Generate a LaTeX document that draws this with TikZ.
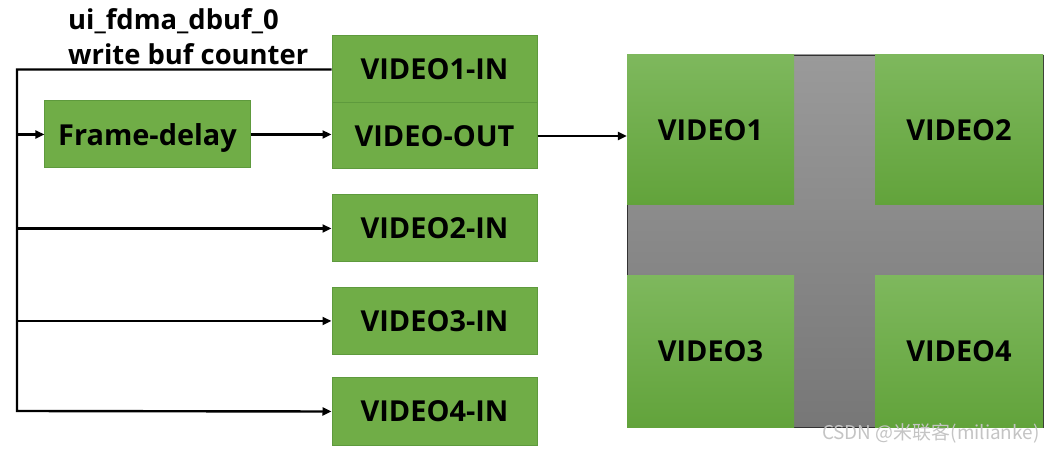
\documentclass[tikz,border=0pt]{standalone}
\usepackage{fontspec}
\setmainfont{Open Sans}
\newfontfamily\cjkfont{Noto Sans CJK SC}
\usetikzlibrary{arrows.meta, positioning}

\definecolor{boxgreen}{HTML}{70AD47}
\definecolor{boxedge}{HTML}{5E9A3D}
\definecolor{scrtop}{HTML}{7EB85D}
\definecolor{scrbot}{HTML}{62A33B}
\definecolor{graytop}{HTML}{9A9A9A}
\definecolor{graybot}{HTML}{777777}
\definecolor{wmark}{HTML}{C4C4C4}

\tikzset{
  blockbox/.style={draw=boxedge, line width=1bp, fill=boxgreen, inner sep=0pt,
    minimum width=205bp, minimum height=67bp, text depth=0pt,
    font=\bfseries\fontsize{29}{32}\selectfont},
  winbox/.style={inner sep=0pt, top color=scrtop, bottom color=scrbot,
    font=\bfseries\fontsize{29}{32}\selectfont},
  wire/.style={line width=2.4bp, -{Triangle[length=9bp, width=8bp]}}
}

\begin{document}
\begin{tikzpicture}[x=1bp, y=-1bp]
\useasboundingbox (0,0) rectangle (1047,450);

% input side
\node[blockbox] (vin1) at (434.5,69.5) {VIDEO1-IN};
\node[blockbox, minimum height=66bp] (vout) at (434.5,136) {VIDEO-OUT};
\node[blockbox] (vin2) at (434.5,228.5) {VIDEO2-IN};
\node[blockbox] (vin3) at (434.5,321) {VIDEO3-IN};
\node[blockbox] (vin4) at (434.5,411.5) {VIDEO4-IN};
\node[blockbox] (fdelay) at (147.5,134.5) {Frame-delay};

\node[anchor=base west, inner sep=0pt, font=\bfseries\fontsize{27.5}{30}\selectfont] (cntname) at (68,30) {ui\_fdma\_dbuf\_0};
\node[anchor=base west, inner sep=0pt, font=\bfseries\fontsize{27.5}{30}\selectfont] (cnttext) at (68,65) {write buf counter};

% screen with four windows
\shade[top color=graytop, bottom color=graybot, draw=black!80, line width=0.8bp]
  (627,55) rectangle (1043,427);
\node[winbox, minimum width=167bp, minimum height=150bp] (v1) at (710.5,130) {VIDEO1};
\node[winbox, minimum width=168bp, minimum height=150bp] (v2) at (959,130) {VIDEO2};
\node[winbox, minimum width=167bp, minimum height=151bp] (v3) at (710.5,351.5) {VIDEO3};
\node[winbox, minimum width=168bp, minimum height=151bp] (v4) at (959,351.5) {VIDEO4};

% counter bus
\coordinate (bus) at (17,411);
\draw[wire] (vin1.west) -| (bus) -- (vin4.west);
\draw[wire] (bus |- fdelay) -- (fdelay.west);
\draw[wire] (bus |- vin2) -- (vin2.west);
\draw[wire] (bus |- vin3) -- (vin3.west);
\draw[wire] (fdelay.east) -- (fdelay.east -| vout.west);
\draw[wire] (vout.east) -- (vout.east -| v1.west);

\node[anchor=base east, text=wmark, font=\cjkfont\fontsize{19}{21}\selectfont] (wm) at (1043,439) {CSDN @米联客(milianke)};
\end{tikzpicture}
\end{document}
